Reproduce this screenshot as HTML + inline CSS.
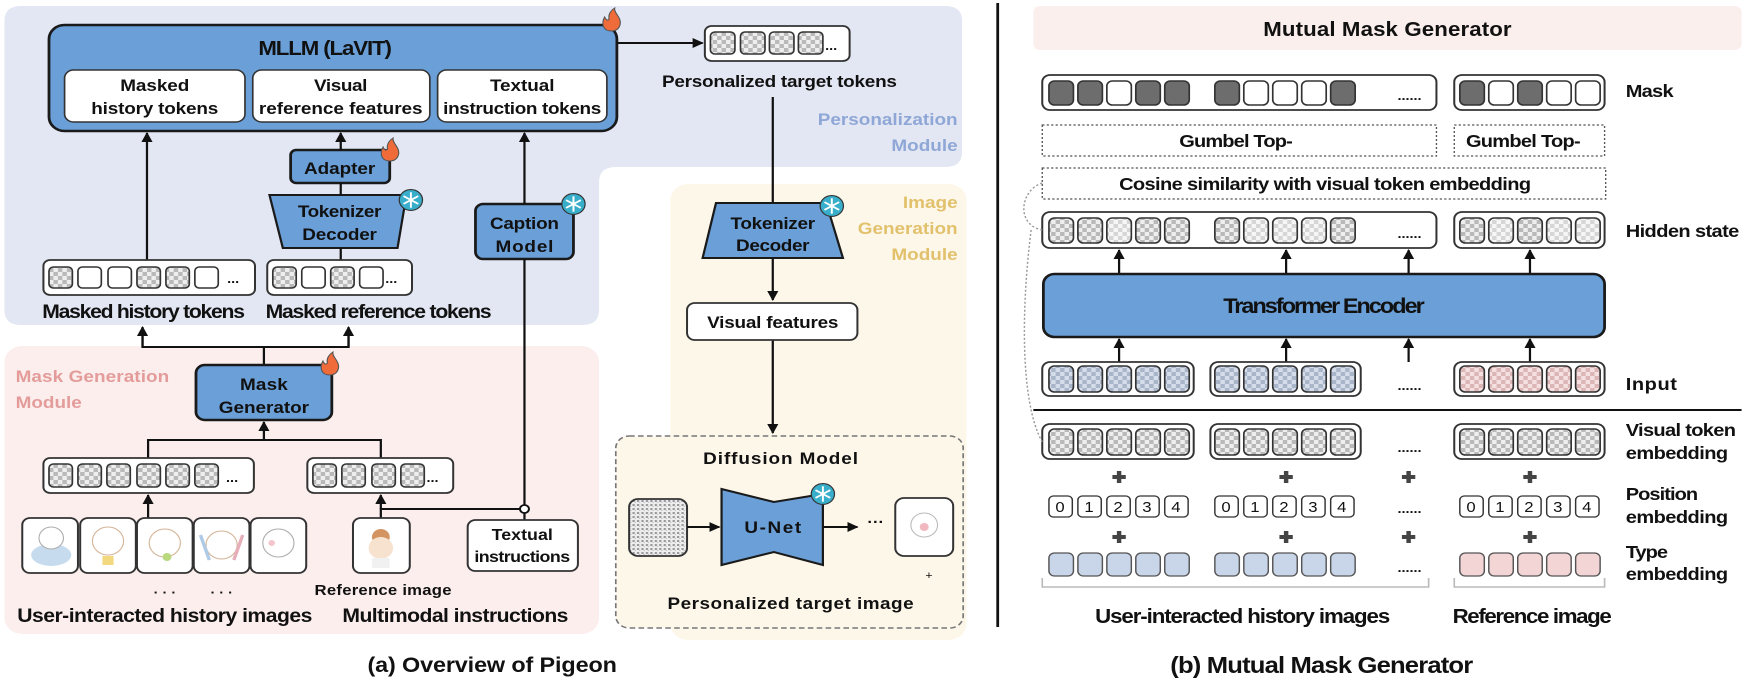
<!DOCTYPE html>
<html><head><meta charset="utf-8"><style>
html,body{margin:0;padding:0;background:#fff;}
svg{display:block;}
text{font-family:"Liberation Sans",sans-serif;font-weight:bold;fill:#111;}
</style></head><body>
<svg width="1746" height="678" viewBox="0 0 1568 678" preserveAspectRatio="none" xmlns="http://www.w3.org/2000/svg">
<defs>
<pattern id="ck" width="8" height="8" patternUnits="userSpaceOnUse"><rect width="8" height="8" fill="#eeeeee"/><rect width="4" height="4" fill="#b9b9b9"/><rect x="4" y="4" width="4" height="4" fill="#b9b9b9"/></pattern>
<pattern id="ckl" width="8" height="8" patternUnits="userSpaceOnUse"><rect width="8" height="8" fill="#f6f6f6"/><rect width="4" height="4" fill="#d6d6d6"/><rect x="4" y="4" width="4" height="4" fill="#d6d6d6"/></pattern>
<pattern id="ckb" width="8" height="8" patternUnits="userSpaceOnUse"><rect width="8" height="8" fill="#d5dcea"/><rect width="4" height="4" fill="#a9b5c9"/><rect x="4" y="4" width="4" height="4" fill="#a9b5c9"/></pattern>
<pattern id="ckp" width="8" height="8" patternUnits="userSpaceOnUse"><rect width="8" height="8" fill="#f4e0e0"/><rect width="4" height="4" fill="#dcb6b6"/><rect x="4" y="4" width="4" height="4" fill="#dcb6b6"/></pattern>
<pattern id="nz" width="4" height="4" patternUnits="userSpaceOnUse"><rect width="4" height="4" fill="#eee"/><rect width="2" height="2" fill="#999"/><rect x="2" y="2" width="1" height="1" fill="#bbb"/></pattern>
<marker id="ar" viewBox="0 0 10 10" refX="9" refY="5" markerWidth="5" markerHeight="5" orient="auto-start-reverse"><path d="M0,0 L10,5 L0,10 z" fill="#111"/></marker>
<symbol id="fire" viewBox="-10 -12 20 24" overflow="visible"><path d="M0,11 C-8,11 -9,3 -6,-3 C-5,0 -3,1 -2,-1 C-3,-6 0,-10 3,-12 C2,-7 9,-3 8,4 C7,9 4,11 0,11z" fill="#ef6b3a" stroke="#555" stroke-width="1"/></symbol>
<symbol id="snow" viewBox="-10 -10 20 20" overflow="visible"><circle r="9.5" fill="#39aecb" stroke="#333" stroke-width="1"/><g stroke="#fff" stroke-width="1.6"><line x1="0" y1="-7" x2="0" y2="7"/><line x1="-6" y1="-3.5" x2="6" y2="3.5"/><line x1="-6" y1="3.5" x2="6" y2="-3.5"/></g></symbol>
</defs>

<!-- backgrounds -->
<path d="M19,6 H849 Q864,6 864,21 V152 Q864,167 849,167 H553 Q538,167 538,182 V310 Q538,325 523,325 H19 Q4,325 4,310 V21 Q4,6 19,6 z" fill="#e3e7f3"/>
<rect x="4" y="346" width="534" height="288" rx="16" fill="#fbeeed"/>
<rect x="602" y="184" width="266" height="456" rx="16" fill="#fdf7ea"/>
<rect x="928" y="6" width="636" height="44" rx="6" fill="#fbefed"/>

<!-- module labels -->
<g font-size="17" text-anchor="end" style="fill:#8fa7d6"><text x="860" y="125" style="fill:#8fa7d6">Personalization</text><text x="860" y="151" style="fill:#8fa7d6">Module</text></g>
<text x="14" y="382" font-size="17" style="fill:#e39c9a" textLength="138">Mask Generation</text>
<text x="14" y="408" font-size="17" style="fill:#e39c9a">Module</text>
<g font-size="17" text-anchor="end"><text x="860" y="208" style="fill:#e2c16c">Image</text><text x="860" y="234" style="fill:#e2c16c">Generation</text><text x="860" y="260" style="fill:#e2c16c">Module</text></g>

<!-- MLLM -->
<rect x="44" y="25" width="510" height="106" rx="14" fill="#6a9fd8" stroke="#1a1a1a" stroke-width="2.5"/>
<text x="292" y="55" font-size="20" text-anchor="middle" textLength="120">MLLM (LaVIT)</text>
<rect x="58" y="70" width="162" height="52" rx="8" fill="#fff" stroke="#333" stroke-width="1.5"/>
<rect x="227" y="70" width="159" height="52" rx="8" fill="#fff" stroke="#333" stroke-width="1.5"/>
<rect x="393" y="70" width="152" height="52" rx="8" fill="#fff" stroke="#333" stroke-width="1.5"/>
<g font-size="17" text-anchor="middle">
<text x="139" y="91" textLength="62">Masked</text><text x="139" y="114" textLength="114">history tokens</text>
<text x="306" y="91" textLength="48">Visual</text><text x="306" y="114" textLength="147">reference features</text>
<text x="469" y="91" textLength="58">Textual</text><text x="469" y="114" textLength="142">instruction tokens</text>
</g>
<use href="#fire" x="539" y="8" width="20" height="24"/>

<!-- adapter / tokenizer / caption -->
<rect x="261" y="150" width="89" height="33" rx="5" fill="#6a9fd8" stroke="#1a1a1a" stroke-width="2.5"/>
<text x="305" y="174" font-size="17" text-anchor="middle" textLength="64">Adapter</text>
<use href="#fire" x="340" y="138" width="20" height="24"/>
<path d="M242,195 H365 L357,248 H254 z" fill="#6a9fd8" stroke="#1a1a1a" stroke-width="2"/>
<text x="305" y="217" font-size="17" text-anchor="middle" textLength="75">Tokenizer</text>
<text x="305" y="240" font-size="17" text-anchor="middle" textLength="67">Decoder</text>
<use href="#snow" x="358" y="189" width="22" height="22"/>
<rect x="427" y="204" width="88" height="55" rx="7" fill="#6a9fd8" stroke="#1a1a1a" stroke-width="2.5"/>
<text x="471" y="229" font-size="17" text-anchor="middle" textLength="62">Caption</text>
<text x="471" y="252" font-size="17" text-anchor="middle" textLength="52">Model</text>
<use href="#snow" x="504" y="193" width="22" height="22"/>

<!-- connectors top-left -->
<g stroke="#111" stroke-width="2" fill="none">
<line x1="132" y1="260" x2="132" y2="133" marker-end="url(#ar)"/>
<line x1="306" y1="150" x2="306" y2="133" marker-end="url(#ar)"/>
<line x1="306" y1="183" x2="306" y2="195"/>
<line x1="306" y1="248" x2="306" y2="260"/>
<line x1="471" y1="204" x2="471" y2="133" marker-end="url(#ar)"/>
<line x1="471" y1="259" x2="471" y2="505"/>
<line x1="471" y1="513" x2="471" y2="520"/>
<line x1="554" y1="43" x2="631" y2="43" marker-end="url(#ar)"/>
<line x1="694" y1="97" x2="694" y2="203"/>
<line x1="694" y1="258" x2="694" y2="300" marker-end="url(#ar)"/>
<line x1="694" y1="340" x2="694" y2="433" marker-end="url(#ar)"/>
<!-- mask generator connectors -->
<polyline points="128,328 128,347 313,347 313,328"/>
<line x1="237" y1="347" x2="237" y2="365"/>
<line x1="128" y1="347" x2="128" y2="327" marker-end="url(#ar)"/>
<line x1="313" y1="347" x2="313" y2="327" marker-end="url(#ar)"/>
<polyline points="133,458 133,440 342,440 342,458"/>
<line x1="237" y1="440" x2="237" y2="422" marker-end="url(#ar)"/>
<line x1="133" y1="518" x2="133" y2="495" marker-end="url(#ar)"/>
<polyline points="342,518 342,509 467,509"/>
<line x1="342" y1="509" x2="342" y2="495" marker-end="url(#ar)"/>
</g>
<circle cx="471" cy="509" r="4" fill="#fff" stroke="#111" stroke-width="1.8"/>

<!-- token bars top-left -->
<rect x="39" y="260" width="190" height="35" rx="6" fill="#fff" stroke="#333" stroke-width="1.8"/>
<g stroke="#333" stroke-width="1.5">
<rect x="44" y="267" width="21" height="21" rx="4" fill="url(#ck)"/><rect x="70" y="267" width="21" height="21" rx="4" fill="#fff"/><rect x="97" y="267" width="21" height="21" rx="4" fill="#fff"/><rect x="123" y="267" width="21" height="21" rx="4" fill="url(#ck)"/><rect x="149" y="267" width="21" height="21" rx="4" fill="url(#ck)"/><rect x="175" y="267" width="21" height="21" rx="4" fill="#fff"/>
</g>
<text x="204" y="283" font-size="13">...</text>
<rect x="240" y="260" width="130" height="35" rx="6" fill="#fff" stroke="#333" stroke-width="1.8"/>
<g stroke="#333" stroke-width="1.5">
<rect x="245" y="267" width="21" height="21" rx="4" fill="url(#ck)"/><rect x="271" y="267" width="21" height="21" rx="4" fill="#fff"/><rect x="297" y="267" width="21" height="21" rx="4" fill="url(#ck)"/><rect x="323" y="267" width="21" height="21" rx="4" fill="#fff"/>
</g>
<text x="346" y="283" font-size="13">...</text>
<text x="129" y="318" font-size="19" text-anchor="middle" textLength="182">Masked history tokens</text>
<text x="340" y="318" font-size="19" text-anchor="middle" textLength="203">Masked reference tokens</text>

<!-- mask generator -->
<rect x="176" y="365" width="122" height="55" rx="8" fill="#6a9fd8" stroke="#1a1a1a" stroke-width="2.5"/>
<text x="237" y="390" font-size="17" text-anchor="middle" textLength="43">Mask</text>
<text x="237" y="413" font-size="17" text-anchor="middle" textLength="81">Generator</text>
<use href="#fire" x="286" y="352" width="20" height="24"/>

<rect x="39" y="458" width="189" height="35" rx="6" fill="#fff" stroke="#333" stroke-width="1.8"/>
<g stroke="#333" stroke-width="1.5" fill="url(#ck)">
<rect x="44" y="464" width="21" height="23" rx="4"/><rect x="70" y="464" width="21" height="23" rx="4"/><rect x="96" y="464" width="21" height="23" rx="4"/><rect x="123" y="464" width="21" height="23" rx="4"/><rect x="149" y="464" width="21" height="23" rx="4"/><rect x="175" y="464" width="21" height="23" rx="4"/>
</g>
<text x="203" y="482" font-size="13">...</text>
<rect x="276" y="458" width="131" height="35" rx="6" fill="#fff" stroke="#333" stroke-width="1.8"/>
<g stroke="#333" stroke-width="1.5" fill="url(#ck)">
<rect x="281" y="464" width="21" height="23" rx="4"/><rect x="307" y="464" width="21" height="23" rx="4"/><rect x="334" y="464" width="21" height="23" rx="4"/><rect x="360" y="464" width="21" height="23" rx="4"/>
</g>
<text x="383" y="482" font-size="13">...</text>

<!-- images -->
<g stroke="#333" stroke-width="1.8" fill="#fff">
<rect x="20" y="518" width="50" height="55" rx="7"/><rect x="72" y="518" width="50" height="55" rx="7"/><rect x="123" y="518" width="50" height="55" rx="7"/><rect x="174" y="518" width="50" height="55" rx="7"/><rect x="225" y="518" width="50" height="55" rx="7"/><rect x="317" y="518" width="51" height="55" rx="7"/>
</g>
<g opacity="0.8">
<ellipse cx="46" cy="555" rx="18" ry="11" fill="#b9d3ea"/><circle cx="46" cy="538" r="11" fill="#fff" stroke="#999"/>
<circle cx="97" cy="541" r="14" fill="#fff" stroke="#c9a27e"/><rect x="92" y="556" width="10" height="9" fill="#f0d060"/>
<circle cx="148" cy="543" r="14" fill="#fff" stroke="#c9a27e"/><circle cx="150" cy="557" r="4" fill="#a8d060"/>
<circle cx="199" cy="545" r="14" fill="#fff" stroke="#c9a27e"/><line x1="180" y1="535" x2="188" y2="560" stroke="#9bbde0" stroke-width="3"/><line x1="218" y1="535" x2="210" y2="560" stroke="#e09aa8" stroke-width="3"/>
<circle cx="250" cy="543" r="14" fill="#fff" stroke="#999"/><circle cx="244" cy="543" r="3" fill="#f2b8c0"/>
<circle cx="342" cy="537" r="8" fill="#c97a3c"/><circle cx="342" cy="548" r="11" fill="#f6dcc4"/><rect x="334" y="558" width="16" height="10" fill="#eee"/>
</g>
<text x="138" y="597" font-size="13">· · ·</text><text x="189" y="597" font-size="13">· · ·</text>
<rect x="420" y="520" width="99" height="51" rx="7" fill="#fff" stroke="#333" stroke-width="1.8"/>
<text x="469" y="540" font-size="16" text-anchor="middle" textLength="55">Textual</text>
<text x="469" y="562" font-size="16" text-anchor="middle" textLength="86">instructions</text>
<text x="344" y="595" font-size="15" text-anchor="middle" textLength="123">Reference image</text>
<text x="148" y="622" font-size="19" text-anchor="middle" textLength="265">User-interacted history images</text>
<text x="409" y="622" font-size="19" text-anchor="middle" textLength="203">Multimodal instructions</text>
<text x="330" y="672" font-size="21" textLength="224">(a) Overview of Pigeon</text>

<!-- personalized tokens -->
<rect x="633" y="26" width="130" height="35" rx="6" fill="#fff" stroke="#333" stroke-width="1.8"/>
<g stroke="#333" stroke-width="1.5" fill="url(#ck)">
<rect x="638" y="32" width="22" height="22" rx="4"/><rect x="665" y="32" width="22" height="22" rx="4"/><rect x="691" y="32" width="22" height="22" rx="4"/><rect x="717" y="32" width="22" height="22" rx="4"/>
</g>
<text x="741" y="50" font-size="13">...</text>
<text x="700" y="87" font-size="17" text-anchor="middle" textLength="211">Personalized target tokens</text>

<!-- image generation -->
<path d="M643,203 H742 L757,258 H631 z" fill="#6a9fd8" stroke="#1a1a1a" stroke-width="2"/>
<text x="694" y="229" font-size="17" text-anchor="middle" textLength="76">Tokenizer</text>
<text x="694" y="251" font-size="17" text-anchor="middle" textLength="66">Decoder</text>
<use href="#snow" x="736" y="195" width="22" height="22"/>
<rect x="617" y="303" width="153" height="37" rx="7" fill="#fff" stroke="#333" stroke-width="1.8"/>
<text x="694" y="328" font-size="17" text-anchor="middle" textLength="118">Visual features</text>
<rect x="553" y="436" width="312" height="192" rx="12" fill="#fdf7ea" stroke="#777" stroke-width="1.5" stroke-dasharray="5,3"/>
<text x="701" y="464" font-size="17" text-anchor="middle" textLength="139">Diffusion Model</text>
<rect x="565" y="499" width="52" height="57" rx="8" fill="url(#nz)" stroke="#333" stroke-width="1.8"/>
<path d="M648,489 L695,502 L739,494 L739,565 L695,552 L648,565 z" fill="#6a9fd8" stroke="#1a1a1a" stroke-width="2"/>
<text x="694" y="533" font-size="17" text-anchor="middle" textLength="51">U-Net</text>
<use href="#snow" x="728" y="483" width="22" height="22"/>
<g stroke="#111" stroke-width="2"><line x1="617" y1="527" x2="646" y2="527" marker-end="url(#ar)"/><line x1="739" y1="527" x2="770" y2="527" marker-end="url(#ar)"/></g>
<text x="779" y="527" font-size="15">···</text>
<rect x="804" y="498" width="52" height="58" rx="8" fill="#fff" stroke="#333" stroke-width="1.8"/>
<circle cx="830" cy="525" r="12" fill="#fff" stroke="#bbb"/><circle cx="830" cy="527" r="4" fill="#f2b8c0"/>
<text x="831" y="579" font-size="11" style="font-weight:normal">+</text>
<text x="710" y="609" font-size="17" text-anchor="middle" textLength="221">Personalized target image</text>

<!-- separator -->
<line x1="896" y1="3" x2="896" y2="627" stroke="#111" stroke-width="2.5"/>

<!-- right panel -->
<text x="1246" y="36" font-size="20" text-anchor="middle" textLength="223">Mutual Mask Generator</text>
<rect x="936" y="75" width="354" height="35" rx="7" fill="#fff" stroke="#333" stroke-width="1.8"/>
<rect x="1306" y="75" width="135" height="35" rx="7" fill="#fff" stroke="#333" stroke-width="1.8"/>
<g stroke="#333" stroke-width="1.5">
<rect x="942" y="81" width="22" height="24" rx="5" fill="#6d6d6d"/><rect x="968" y="81" width="22" height="24" rx="5" fill="#6d6d6d"/><rect x="994" y="81" width="22" height="24" rx="5" fill="#fff"/><rect x="1020" y="81" width="22" height="24" rx="5" fill="#6d6d6d"/><rect x="1046" y="81" width="22" height="24" rx="5" fill="#6d6d6d"/>
<rect x="1091" y="81" width="22" height="24" rx="5" fill="#6d6d6d"/><rect x="1117" y="81" width="22" height="24" rx="5" fill="#fff"/><rect x="1143" y="81" width="22" height="24" rx="5" fill="#fff"/><rect x="1169" y="81" width="22" height="24" rx="5" fill="#fff"/><rect x="1195" y="81" width="22" height="24" rx="5" fill="#6d6d6d"/>
<rect x="1311" y="81" width="22" height="24" rx="5" fill="#6d6d6d"/><rect x="1337" y="81" width="22" height="24" rx="5" fill="#fff"/><rect x="1363" y="81" width="22" height="24" rx="5" fill="#6d6d6d"/><rect x="1389" y="81" width="22" height="24" rx="5" fill="#fff"/><rect x="1415" y="81" width="22" height="24" rx="5" fill="#fff"/>
</g>
<g fill="#fff" stroke="#555" stroke-width="1.2" stroke-dasharray="2,2">
<rect x="936" y="125" width="354" height="31"/><rect x="1306" y="125" width="135" height="31"/><rect x="936" y="168" width="506" height="31"/>
</g>
<g font-size="18" text-anchor="middle">
<text x="1110" y="147" textLength="102">Gumbel Top-</text><text x="1368" y="147" textLength="103">Gumbel Top-</text>
<text x="1190" y="190" textLength="370">Cosine similarity with visual token embedding</text>
</g>
<rect x="936" y="212" width="354" height="36" rx="7" fill="#fff" stroke="#333" stroke-width="1.8"/>
<rect x="1306" y="212" width="135" height="36" rx="7" fill="#fff" stroke="#333" stroke-width="1.8"/>
<g stroke="#333" stroke-width="1.5">
<rect x="942" y="218" width="22" height="25" rx="5" fill="url(#ck)"/><rect x="968" y="218" width="22" height="25" rx="5" fill="url(#ck)"/><rect x="994" y="218" width="22" height="25" rx="5" fill="url(#ckl)"/><rect x="1020" y="218" width="22" height="25" rx="5" fill="url(#ck)"/><rect x="1046" y="218" width="22" height="25" rx="5" fill="url(#ck)"/>
<rect x="1091" y="218" width="22" height="25" rx="5" fill="url(#ck)"/><rect x="1117" y="218" width="22" height="25" rx="5" fill="url(#ckl)"/><rect x="1143" y="218" width="22" height="25" rx="5" fill="url(#ckl)"/><rect x="1169" y="218" width="22" height="25" rx="5" fill="url(#ckl)"/><rect x="1195" y="218" width="22" height="25" rx="5" fill="url(#ck)"/>
<rect x="1311" y="218" width="22" height="25" rx="5" fill="url(#ck)"/><rect x="1337" y="218" width="22" height="25" rx="5" fill="url(#ckl)"/><rect x="1363" y="218" width="22" height="25" rx="5" fill="url(#ck)"/><rect x="1389" y="218" width="22" height="25" rx="5" fill="url(#ckl)"/><rect x="1415" y="218" width="22" height="25" rx="5" fill="url(#ckl)"/>
</g>
<g font-size="13"><text x="1255" y="100">......</text><text x="1255" y="238">......</text><text x="1255" y="390">......</text><text x="1255" y="452">......</text><text x="1255" y="513">......</text><text x="1255" y="572">......</text></g>
<g stroke="#111" stroke-width="2">
<line x1="1005" y1="274" x2="1005" y2="250" marker-end="url(#ar)"/><line x1="1155" y1="274" x2="1155" y2="250" marker-end="url(#ar)"/><line x1="1265" y1="274" x2="1265" y2="250" marker-end="url(#ar)"/><line x1="1374" y1="274" x2="1374" y2="250" marker-end="url(#ar)"/>
<line x1="1005" y1="362" x2="1005" y2="339" marker-end="url(#ar)"/><line x1="1155" y1="362" x2="1155" y2="339" marker-end="url(#ar)"/><line x1="1265" y1="362" x2="1265" y2="339" marker-end="url(#ar)"/><line x1="1374" y1="362" x2="1374" y2="339" marker-end="url(#ar)"/>
</g>
<rect x="937" y="274" width="504" height="63" rx="10" fill="#6a9fd8" stroke="#1a1a1a" stroke-width="2.5"/>
<text x="1189" y="313" font-size="21" text-anchor="middle" textLength="181">Transformer Encoder</text>
<!-- input -->
<rect x="936" y="362" width="136" height="34" rx="7" fill="#fff" stroke="#333" stroke-width="1.8"/>
<rect x="1087" y="362" width="135" height="34" rx="7" fill="#fff" stroke="#333" stroke-width="1.8"/>
<rect x="1306" y="362" width="135" height="34" rx="7" fill="#fff" stroke="#333" stroke-width="1.8"/>
<g stroke="#333" stroke-width="1.5" fill="url(#ckb)">
<rect x="942" y="366" width="22" height="26" rx="5"/><rect x="968" y="366" width="22" height="26" rx="5"/><rect x="994" y="366" width="22" height="26" rx="5"/><rect x="1020" y="366" width="22" height="26" rx="5"/><rect x="1046" y="366" width="22" height="26" rx="5"/>
<rect x="1091" y="366" width="22" height="26" rx="5"/><rect x="1117" y="366" width="22" height="26" rx="5"/><rect x="1143" y="366" width="22" height="26" rx="5"/><rect x="1169" y="366" width="22" height="26" rx="5"/><rect x="1195" y="366" width="22" height="26" rx="5"/>
</g>
<g stroke="#333" stroke-width="1.5" fill="url(#ckp)">
<rect x="1311" y="366" width="22" height="26" rx="5"/><rect x="1337" y="366" width="22" height="26" rx="5"/><rect x="1363" y="366" width="22" height="26" rx="5"/><rect x="1389" y="366" width="22" height="26" rx="5"/><rect x="1415" y="366" width="22" height="26" rx="5"/>
</g>
<line x1="928" y1="410" x2="1564" y2="410" stroke="#111" stroke-width="2"/>
<!-- visual token embedding -->
<rect x="936" y="424" width="136" height="35" rx="7" fill="#fff" stroke="#333" stroke-width="1.8"/>
<rect x="1087" y="424" width="135" height="35" rx="7" fill="#fff" stroke="#333" stroke-width="1.8"/>
<rect x="1306" y="424" width="135" height="35" rx="7" fill="#fff" stroke="#333" stroke-width="1.8"/>
<g stroke="#333" stroke-width="1.5" fill="url(#ck)">
<rect x="942" y="429" width="22" height="26" rx="5"/><rect x="968" y="429" width="22" height="26" rx="5"/><rect x="994" y="429" width="22" height="26" rx="5"/><rect x="1020" y="429" width="22" height="26" rx="5"/><rect x="1046" y="429" width="22" height="26" rx="5"/>
<rect x="1091" y="429" width="22" height="26" rx="5"/><rect x="1117" y="429" width="22" height="26" rx="5"/><rect x="1143" y="429" width="22" height="26" rx="5"/><rect x="1169" y="429" width="22" height="26" rx="5"/><rect x="1195" y="429" width="22" height="26" rx="5"/>
<rect x="1311" y="429" width="22" height="26" rx="5"/><rect x="1337" y="429" width="22" height="26" rx="5"/><rect x="1363" y="429" width="22" height="26" rx="5"/><rect x="1389" y="429" width="22" height="26" rx="5"/><rect x="1415" y="429" width="22" height="26" rx="5"/>
</g>
<!-- plus signs -->
<g fill="#444">
<rect x="999" y="475" width="12" height="4"/><rect x="1003" y="471" width="4" height="12"/>
<rect x="1149" y="475" width="12" height="4"/><rect x="1153" y="471" width="4" height="12"/>
<rect x="1259" y="475" width="12" height="4"/><rect x="1263" y="471" width="4" height="12"/>
<rect x="1368" y="475" width="12" height="4"/><rect x="1372" y="471" width="4" height="12"/>
<rect x="999" y="535" width="12" height="4"/><rect x="1003" y="531" width="4" height="12"/>
<rect x="1149" y="535" width="12" height="4"/><rect x="1153" y="531" width="4" height="12"/>
<rect x="1259" y="535" width="12" height="4"/><rect x="1263" y="531" width="4" height="12"/>
<rect x="1368" y="535" width="12" height="4"/><rect x="1372" y="531" width="4" height="12"/>
</g>
<!-- position -->
<g stroke="#333" stroke-width="1.3" fill="#fff">
<rect x="942" y="496" width="21" height="21" rx="4"/><rect x="968" y="496" width="21" height="21" rx="4"/><rect x="994" y="496" width="21" height="21" rx="4"/><rect x="1020" y="496" width="21" height="21" rx="4"/><rect x="1046" y="496" width="21" height="21" rx="4"/>
<rect x="1091" y="496" width="21" height="21" rx="4"/><rect x="1117" y="496" width="21" height="21" rx="4"/><rect x="1143" y="496" width="21" height="21" rx="4"/><rect x="1169" y="496" width="21" height="21" rx="4"/><rect x="1195" y="496" width="21" height="21" rx="4"/>
<rect x="1311" y="496" width="21" height="21" rx="4"/><rect x="1337" y="496" width="21" height="21" rx="4"/><rect x="1363" y="496" width="21" height="21" rx="4"/><rect x="1389" y="496" width="21" height="21" rx="4"/><rect x="1415" y="496" width="21" height="21" rx="4"/>
</g>
<g font-size="15" text-anchor="middle" style="font-weight:normal">
<text x="952" y="512" style="font-weight:normal">0</text><text x="978" y="512" style="font-weight:normal">1</text><text x="1004" y="512" style="font-weight:normal">2</text><text x="1030" y="512" style="font-weight:normal">3</text><text x="1056" y="512" style="font-weight:normal">4</text>
<text x="1101" y="512" style="font-weight:normal">0</text><text x="1127" y="512" style="font-weight:normal">1</text><text x="1153" y="512" style="font-weight:normal">2</text><text x="1179" y="512" style="font-weight:normal">3</text><text x="1205" y="512" style="font-weight:normal">4</text>
<text x="1321" y="512" style="font-weight:normal">0</text><text x="1347" y="512" style="font-weight:normal">1</text><text x="1373" y="512" style="font-weight:normal">2</text><text x="1399" y="512" style="font-weight:normal">3</text><text x="1425" y="512" style="font-weight:normal">4</text>
</g>
<!-- type -->
<g stroke="#555" stroke-width="1.3" fill="#c9d5e9">
<rect x="942" y="553" width="22" height="23" rx="5"/><rect x="968" y="553" width="22" height="23" rx="5"/><rect x="994" y="553" width="22" height="23" rx="5"/><rect x="1020" y="553" width="22" height="23" rx="5"/><rect x="1046" y="553" width="22" height="23" rx="5"/>
<rect x="1091" y="553" width="22" height="23" rx="5"/><rect x="1117" y="553" width="22" height="23" rx="5"/><rect x="1143" y="553" width="22" height="23" rx="5"/><rect x="1169" y="553" width="22" height="23" rx="5"/><rect x="1195" y="553" width="22" height="23" rx="5"/>
</g>
<g stroke="#555" stroke-width="1.3" fill="#f3d5d5">
<rect x="1311" y="553" width="22" height="23" rx="5"/><rect x="1337" y="553" width="22" height="23" rx="5"/><rect x="1363" y="553" width="22" height="23" rx="5"/><rect x="1389" y="553" width="22" height="23" rx="5"/><rect x="1415" y="553" width="22" height="23" rx="5"/>
</g>
<g stroke="#bbb" stroke-width="1.5" fill="none">
<path d="M936,578 V587 H1283 V578"/><path d="M1306,578 V587 H1441 V578"/>
</g>
<!-- dotted curve -->
<g stroke="#999" stroke-width="1.3" fill="none" stroke-dasharray="2,2">
<path d="M936,183 C916,190 912,225 936,230"/>
<path d="M926,230 C918,300 915,400 936,442"/>
</g>
<!-- right labels -->
<g font-size="18">
<text x="1460" y="97" textLength="43">Mask</text>
<text x="1460" y="237" textLength="102">Hidden state</text>
<text x="1460" y="390" textLength="46">Input</text>
<text x="1460" y="436" textLength="99">Visual token</text>
<text x="1460" y="459" textLength="92">embedding</text>
<text x="1460" y="500" textLength="65">Position</text>
<text x="1460" y="523" textLength="92">embedding</text>
<text x="1460" y="558" textLength="38">Type</text>
<text x="1460" y="580" textLength="92">embedding</text>
</g>
<text x="1116" y="623" font-size="20" text-anchor="middle" textLength="265">User-interacted history images</text>
<text x="1376" y="623" font-size="20" text-anchor="middle" textLength="143">Reference image</text>
<text x="1187" y="673" font-size="23" text-anchor="middle" textLength="272">(b) Mutual Mask Generator</text>
</svg>
</body></html>
